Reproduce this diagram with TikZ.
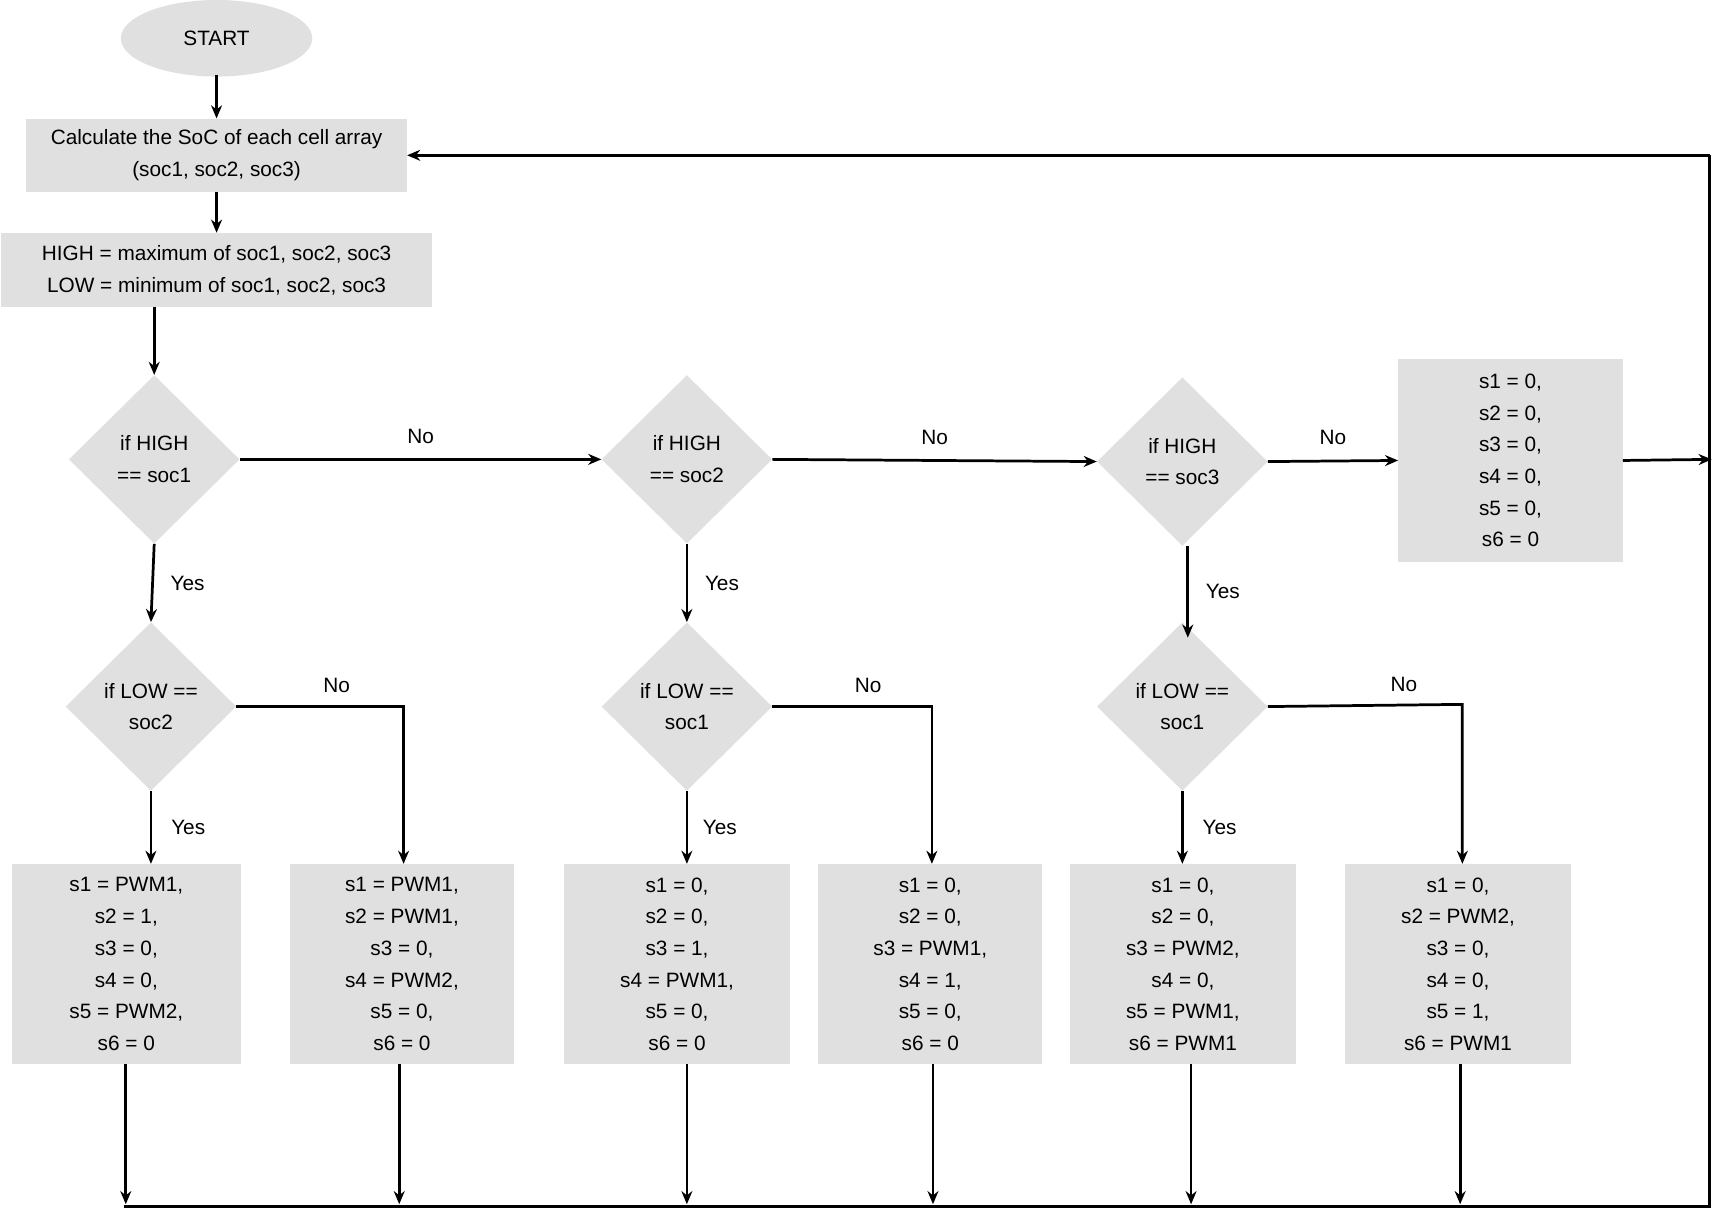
\documentclass[tikz,border=0pt]{standalone}
\usepackage{fontspec}
\setmainfont{Liberation Sans}
\usetikzlibrary{shapes.geometric,arrows.meta}
\definecolor{boxgray}{HTML}{E0E0E0}
\begin{document}
\begin{tikzpicture}[x=1pt,y=-1pt,
  every node/.style={font=\fontsize{19}{29}\selectfont},
  box/.style={fill=boxgray,align=center,inner sep=0pt},
  dia/.style={diamond,fill=boxgray,minimum width=156pt,minimum height=154pt,inner sep=0pt,align=center},
  arr/.style={line width=2.5pt,-{Stealth[length=12pt,width=10pt]}},
  ln/.style={line width=2.5pt},
  lab/.style={font=\fontsize{19}{22}\selectfont}]
\useasboundingbox (0,0) rectangle (1568,1107);
\node[ellipse,fill=boxgray,minimum width=175pt,minimum height=70pt] (start) at (198,35) {START};
\node[box,minimum width=348pt,minimum height=67pt] (calc) at (198,142) {Calculate the SoC of each cell array\\(soc1, soc2, soc3)};
\node[box,minimum width=394pt,minimum height=68pt] (hl) at (198,247) {HIGH = maximum of soc1, soc2, soc3\\LOW = minimum of soc1, soc2, soc3};
\node[dia] (d1) at (141,420) {if HIGH\\== soc1};
\node[dia] (d2) at (628,420) {if HIGH\\== soc2};
\node[dia] (d3) at (1081,422) {if HIGH\\== soc3};
\node[box,minimum width=205pt,minimum height=185pt] (z) at (1381,421) {s1 = 0,\\s2 = 0,\\s3 = 0,\\s4 = 0,\\s5 = 0,\\ s6 = 0};
\node[dia] (d4) at (138,646) {if LOW ==\\soc2};
\node[dia] (d5) at (628,646) {if LOW ==\\soc1};
\node[dia] (d6) at (1081,646) {if LOW ==\\soc1};
\foreach \n/\x/\w/\t in {
 b1/115.5/209/{s1 = PWM1,\\s2 = 1,\\s3 = 0,\\s4 = 0,\\s5 = PWM2,\\ s6 = 0},
 b2/367.5/205/{s1 = PWM1,\\s2 = PWM1,\\s3 = 0,\\s4 = PWM2,\\s5 = 0,\\ s6 = 0},
 b3/619/206/{s1 = 0,\\s2 = 0,\\s3 = 1,\\s4 = PWM1,\\s5 = 0,\\ s6 = 0},
 b4/850.5/205/{s1 = 0,\\s2 = 0,\\s3 = PWM1,\\s4 = 1,\\s5 = 0,\\ s6 = 0},
 b5/1081.5/207/{s1 = 0,\\s2 = 0,\\s3 = PWM2,\\s4 = 0,\\s5 = PWM1,\\ s6 = PWM1},
 b6/1333/206/{s1 = 0,\\s2 = PWM2,\\s3 = 0,\\s4 = 0,\\s5 = 1,\\s6 = PWM1}}
 \node[box,minimum width=\w pt,minimum height=183pt] (\n) at (\x,881.5) {\t};
% main flow
\draw[arr] (start.south) ++(0,-2) -- (calc.north);
\draw[arr] (calc.south) -- (hl.north);
\draw[arr] (141,281) -- (d1.north);
\draw[arr] (d1.east) -- node[lab,above=10pt]{No} (d2.west);
\draw[arr] (d2.east) -- node[lab,above=10pt]{No} (d3.west);
\draw[arr] (d3.east) -- node[lab,above=10pt]{No} (z.west);
\draw[arr] (d1.south) -- node[lab,right=12pt]{Yes} (d4.north);
\draw[arr] (d2.south) -- node[lab,right=12pt]{Yes} (d5.north);
\draw[arr] (1086,499) -- node[lab,right=12pt]{Yes} (1086,583);
\draw[arr] (d4.south) -- node[lab,right=14pt]{Yes} (b1.north -| d4.south);
\draw[arr] (d5.south) -- node[lab,right=10pt]{Yes} (b3.north -| d5.south);
\draw[arr] (d6.south) -- node[lab,right=14pt]{Yes} (b5.north -| d6.south);
\coordinate (c4) at (369,646); \coordinate (c5) at (852,646); \coordinate (c6) at (1337,644);
\draw[arr] (d4.east) -- (c4) node[lab,pos=0.6,above=8pt]{No} -- (b2.north -| c4);
\draw[arr] (d5.east) -- (c5) node[lab,pos=0.6,above=8pt]{No} -- (b4.north -| c5);
\draw[arr] (d6.east) -- (c6) node[lab,pos=0.7,above=8pt]{No} -- (b6.north -| c6);
% returns
\coordinate (bl) at (113,1103); \coordinate (br) at (1563,1103); \coordinate (tr) at (1563,142);
\foreach \n/\x in {b1/115,b2/365,b3/628,b4/853,b5/1089,b6/1335}
  \draw[arr] (\x,973) -- (\x,1101);
\draw[ln] (bl) -- (br) -- (tr);
\draw[arr] (tr) -- (calc.east);
\draw[arr] (z.east) -- (1565,420);
\end{tikzpicture}
\end{document}
